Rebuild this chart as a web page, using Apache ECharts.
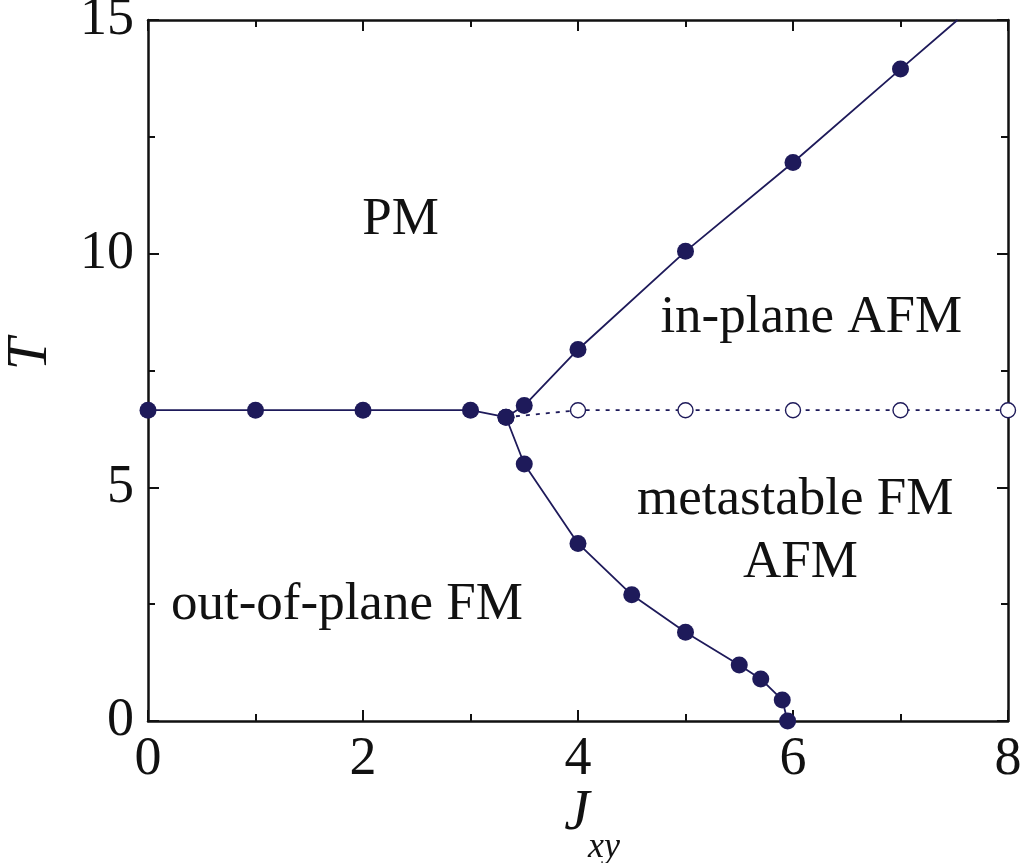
<!DOCTYPE html>
<html>
<head>
<meta charset="utf-8">
<script src="https://cdn.jsdelivr.net/npm/echarts@6/dist/echarts.min.js"></script>
<style>
  html, body { margin: 0; padding: 0; background: #fff; }
  #main { width: 1020px; height: 863px; }
</style>
</head>
<body>
<div id="main"></div>
<script>
// phase boundaries (Jxy, T)
var upperLine = [[0, 6.65], [1, 6.65], [2, 6.65], [3, 6.65], [3.33, 6.5], [3.5, 6.75], [4, 7.95], [5, 10.05], [6, 11.95], [7, 13.95]];
var upperTail = [7.53, 15];   // line runs off the top, no marker
var lowerLine = [[3.33, 6.5], [3.5, 5.5], [4, 3.8], [4.5, 2.7], [5, 1.9], [5.5, 1.2], [5.7, 0.9], [5.9, 0.45], [5.95, 0]];
var metaLine = [[4, 6.65], [5, 6.65], [6, 6.65], [7, 6.65], [8, 6.65]];
var xTicks = [0, 2, 4, 6, 8];
var yTicks = [0, 5, 10, 15];
var regionLabels = [
  { text: 'PM', x: 2.35, y: 10.72 },
  { text: 'in-plane AFM', x: 6.17, y: 8.63 },
  { text: 'metastable FM', x: 6.02, y: 4.73 },
  { text: 'AFM', x: 6.07, y: 3.38 },
  { text: 'out-of-plane FM', x: 1.85, y: 2.48 }
];

var navy = '#1e1a5a';
var serif = '"Liberation Serif", "DejaVu Serif", serif';

var chart = echarts.init(document.getElementById('main'));

function axisBase(extra) {
  var a = {
    type: 'value',
    axisLine: { show: true, onZero: false, lineStyle: { color: '#111', width: 2.5 } },
    axisTick: { show: true, inside: true, length: 11, lineStyle: { color: '#111', width: 2 } },
    minorTick: { show: true, splitNumber: 2, length: 7, lineStyle: { color: '#111', width: 2 } },
    splitLine: { show: false },
    axisLabel: { show: false }
  };
  return Object.assign(a, extra);
}

var upperData = upperLine.slice();
upperData.push({ value: upperTail, symbol: 'none' });
var metaData = [{ value: lowerLine[0], symbol: 'none' }].concat(metaLine);

chart.setOption({
  animation: false,
  backgroundColor: '#fff',
  grid: { left: 148, right: 12, top: 20, bottom: 142, outerBoundsMode: 'none', containLabel: false },
  xAxis: [
    axisBase({
      min: 0, max: 8, interval: 2, position: 'bottom',
      axisLabel: {
        show: true, margin: 12, fontFamily: serif, fontSize: 54, color: '#111',
        formatter: function (v) { return xTicks.indexOf(v) >= 0 ? String(v) : ''; }
      }
    }),
    axisBase({ min: 0, max: 8, interval: 2, position: 'top' })
  ],
  yAxis: [
    axisBase({
      min: 0, max: 15, interval: 5, position: 'left',
      axisLabel: {
        show: true, margin: 14, fontFamily: serif, fontSize: 54, color: '#111',
        formatter: function (v) { return yTicks.indexOf(v) >= 0 ? String(v) : ''; }
      }
    }),
    axisBase({ min: 0, max: 15, interval: 5, position: 'right' })
  ],
  series: [
    {
      type: 'line', data: upperData, clip: false,
      symbol: 'circle', symbolSize: 17,
      itemStyle: { color: navy },
      lineStyle: { color: navy, width: 1.8 }
    },
    {
      type: 'line', data: lowerLine, clip: false,
      symbol: 'circle', symbolSize: 17,
      itemStyle: { color: navy },
      lineStyle: { color: navy, width: 1.8 }
    },
    {
      type: 'line', data: metaData, clip: false, z: 1,
      symbol: 'circle', symbolSize: 15,
      itemStyle: { color: '#fff', borderColor: navy, borderWidth: 1.4 },
      lineStyle: { color: navy, width: 1.8, type: [4, 6] }
    }
  ]
});

// region names and axis titles as text, placed through the axes
var texts = regionLabels.map(function (r) {
  var p = chart.convertToPixel({ gridIndex: 0 }, [r.x, r.y]);
  return {
    type: 'text', x: p[0], y: p[1],
    style: { text: r.text, font: '53px ' + serif, fill: '#111', align: 'center', verticalAlign: 'middle' }
  };
});
texts.push(
  {
    type: 'text', x: 2, y: 354, rotation: Math.PI / 2,
    style: { text: 'T', font: 'italic 58px ' + serif, fill: '#111', align: 'center', verticalAlign: 'top' }
  },
  {
    type: 'text', x: 577, y: 814,
    style: { text: 'J', font: 'italic 57px ' + serif, fill: '#111', align: 'center', verticalAlign: 'middle' }
  },
  {
    type: 'text', x: 604, y: 848,
    style: { text: 'xy', font: 'italic 36px ' + serif, fill: '#111', align: 'center', verticalAlign: 'middle' }
  }
);
chart.setOption({ graphic: texts });
</script>
</body>
</html>
